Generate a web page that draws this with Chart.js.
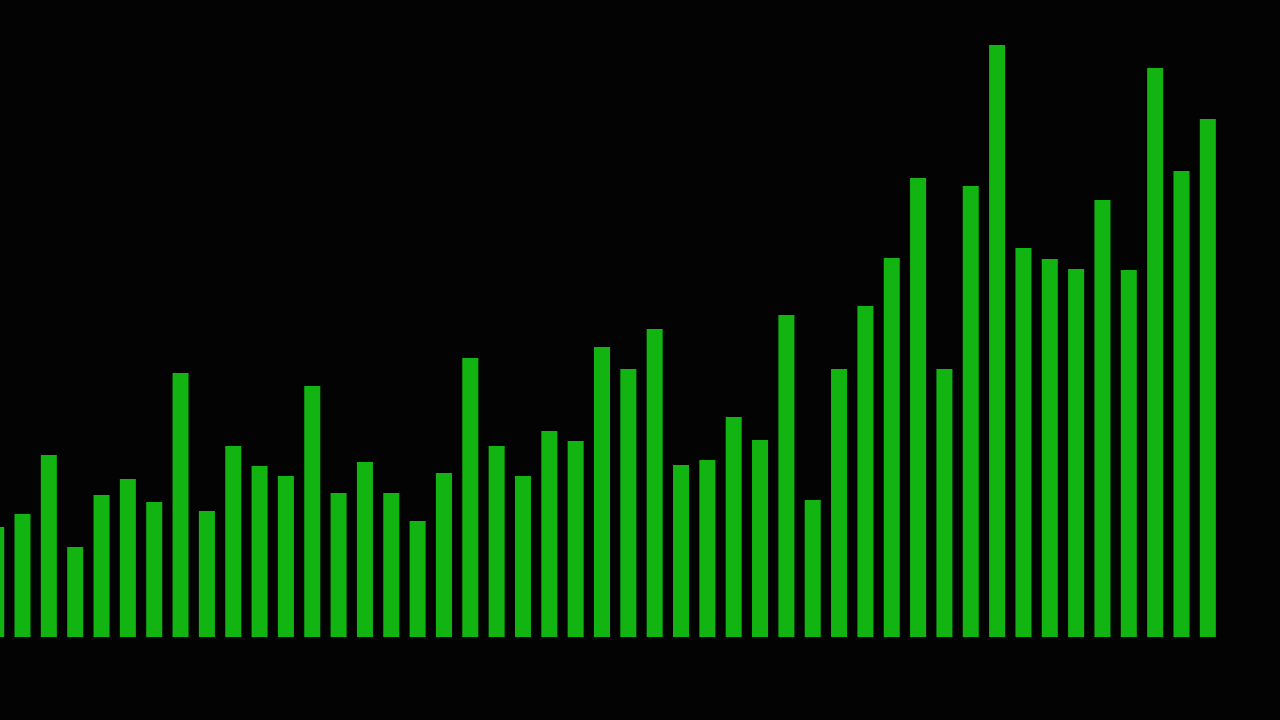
<!DOCTYPE html>
<html>
<head>
<meta charset="utf-8">
<script src="https://cdn.jsdelivr.net/npm/chart.js@4/dist/chart.umd.min.js"></script>
<style>
  html, body { margin: 0; padding: 0; background: #030303; overflow: hidden; }
  #wrap { position: absolute; left: -17px; top: 0; width: 1297px; height: 720px; }
</style>
</head>
<body>
<div id="wrap"><canvas id="bars"></canvas></div>
<script>
// 47 bars, no axes or labels visible in the picture
const labels = [];
for (let i = 1; i <= 47; i++) labels.push(String(i));

// bar heights (baseline = 0)
const values = [
    110, 123, 182, 90, 142, 158, 135, 264, 126, 191,
    171, 161, 251, 144, 175, 144, 116, 164, 279, 191,
    161, 206, 196, 290, 268, 308, 172, 177, 220, 197,
    322, 137, 268, 331, 379, 459, 268, 451, 592, 389,
    378, 368, 437, 367, 569, 466, 518
];

const yMin = 0;
const yMax = 637;

const ctx = document.getElementById("bars").getContext("2d");
new Chart(ctx, {
    type: "bar",
    data: {
        labels: labels,
        datasets: [{
            data: values,
            backgroundColor: "#12b412",
            borderWidth: 0,
            barPercentage: 0.78,
            categoryPercentage: 0.78
        }]
    },
    options: {
        responsive: true,
        maintainAspectRatio: false,
        animation: false,
        layout: { padding: { left: 0, right: 59, top: 0, bottom: 83 } },
        plugins: { legend: { display: false }, tooltip: { enabled: false } },
        scales: {
            x: { display: false, offset: true },
            y: { display: false, min: yMin, max: yMax }
        }
    }
});
</script>
</body>
</html>
